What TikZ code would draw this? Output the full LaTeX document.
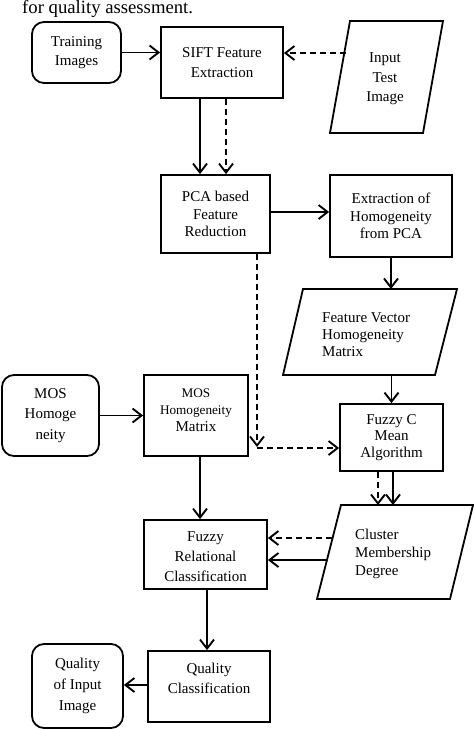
\documentclass[tikz,border=0pt]{standalone}
\usepackage{fontspec}
\setmainfont{Liberation Serif}
\usetikzlibrary{arrows.meta,calc}
\begin{document}
\begin{tikzpicture}[x=1pt,y=-1pt,
  every node/.style={font=\fontsize{15}{18}\selectfont, inner sep=0pt},
  box/.style={draw, line width=1.8pt, align=center},
  rbox/.style={box, rounded corners=12pt},
  conn/.style={line width=1.9pt, -{Straight Barb[length=9pt,width=14pt,line width=1.9pt]}},
  dconn/.style={conn, dash pattern=on 6pt off 4pt},
  para/.style={draw, line width=1.8pt, line join=miter}
]
\useasboundingbox (0,0) rectangle (474,729);

% caption fragment
\node[anchor=base west, font=\fontsize{18.7}{22}\selectfont] (cap) at (22,13.5) {for quality assessment.};

% boxes
\node[rbox, minimum width=89pt, minimum height=61pt, font=\fontsize{15}{19}\selectfont] (tr) at (76.5,52.5) {Training\\Images};
\node[box, minimum width=122pt, minimum height=71pt, font=\fontsize{15}{20}\selectfont] (sift) at (222,62.5) {SIFT Feature\\Extraction};
\node[box, minimum width=109pt, minimum height=78pt, font=\fontsize{15}{17.5}\selectfont] (pca) at (215.5,214) {PCA based\\Feature\\Reduction};
\node[box, minimum width=122pt, minimum height=82pt, font=\fontsize{15}{17.5}\selectfont] (ext) at (391,216) {Extraction of\\Homogeneity\\from PCA};
\node[box, minimum width=103pt, minimum height=67pt, font=\fontsize{15}{16.5}\selectfont] (fcm) at (391.5,437.5) {Fuzzy C\\Mean\\Algorithm};
\node[rbox, minimum width=97pt, minimum height=81pt, font=\fontsize{15}{20.5}\selectfont] (mos) at (50.5,415.5) {MOS\\Homoge\\neity};
\node[box, minimum width=104pt, minimum height=81pt,
  label={[align=center, yshift=5pt, font=\fontsize{13.2}{17}\selectfont]center:MOS\\Homogeneity\\{\fontsize{15}{18}\selectfont Matrix}}] (mosm) at (196,415.5) {};
\node[box, minimum width=123pt, minimum height=69pt,
  label={[align=center, yshift=-2.5pt, font=\fontsize{15}{20}\selectfont]center:Fuzzy\\Relational\\Classification}] (frc) at (205.5,554.5) {};
\node[box, minimum width=122pt, minimum height=71pt,
  label={[align=center, yshift=8pt, font=\fontsize{15}{20}\selectfont]center:Quality\\Classification}] (qc) at (209,686.5) {};
\node[rbox, minimum width=91pt, minimum height=84pt, font=\fontsize{15}{21}\selectfont] (qi) at (77.5,686) {Quality\\of Input\\Image};

% parallelograms
\draw[para] (350,21) coordinate (inpTL) -- (443,21) coordinate (inpTR) -- (423,133) coordinate (inpBR) -- (330,133) coordinate (inpBL) -- cycle;
\node[align=center, font=\fontsize{15}{19.5}\selectfont] (inp) at (385,79) {Input\\Test\\Image};
\draw[para] (303,289) coordinate (fvTL) -- (457,289) coordinate (fvTR) -- (435,375) coordinate (fvBR) -- (283,375) coordinate (fvBL) -- cycle;
\node[align=left, anchor=west, font=\fontsize{15}{17}\selectfont] (fv) at (322,335) {Feature Vector\\Homogeneity\\Matrix};
\draw[para] (341,505) coordinate (cmTL) -- (473,505) coordinate (cmTR) -- (450,599) coordinate (cmBR) -- (317,599) coordinate (cmBL) -- cycle;
\node[align=left, anchor=west, font=\fontsize{15}{18}\selectfont] (cm) at (355,554) {Cluster\\Membership\\Degree};

% connector end points
\coordinate (inpL) at (346,53);
\coordinate (cmLd) at (332,538);
\coordinate (cmLs) at (328,560);
\coordinate (corner) at (257,448);
\coordinate (pcaE) at ([yshift=2pt]pca.east);
\coordinate (qcW) at ([yshift=1.5pt]qc.west);

% connectors
\draw[conn] (tr.east) -- (sift.west |- tr.east);
\draw[dconn] (inpL) -- (sift.east |- inpL);
\draw[conn] ([xshift=-22pt]sift.south) -- ([xshift=-22pt]sift.south |- pca.north);
\draw[dconn] ([xshift=4pt]sift.south) -- ([xshift=4pt]sift.south |- pca.north);
\draw[conn] (pcaE) -- (ext.west |- pcaE);
\draw[conn] (ext.south) -- (ext.south |- fvTL);
\draw[conn] (fcm.north |- fvBL) -- (fcm.north);
\draw[dconn] (pca.south -| corner) -- ([yshift=1pt]corner);
\draw[dconn] (corner) -- (fcm.west |- corner);
\draw[conn] (mos.east) -- (mosm.west);
\draw[conn] ([xshift=4pt]mosm.south) -- ([xshift=4pt]mosm.south |- frc.north);
\draw[conn] ([xshift=1.5pt]fcm.south) -- ([xshift=1.5pt]fcm.south |- cmTL);
\draw[dconn] ([xshift=-13.5pt]fcm.south) -- ([xshift=-13.5pt]fcm.south |- cmTL);
\draw[dconn] (cmLd) -- (frc.east |- cmLd);
\draw[conn] (cmLs) -- (frc.east |- cmLs);
\draw[conn] ([xshift=1.5pt]frc.south) -- ([xshift=1.5pt]frc.south |- qc.north);
\draw[conn] (qcW) -- (qi.east |- qcW);
\end{tikzpicture}
\end{document}
